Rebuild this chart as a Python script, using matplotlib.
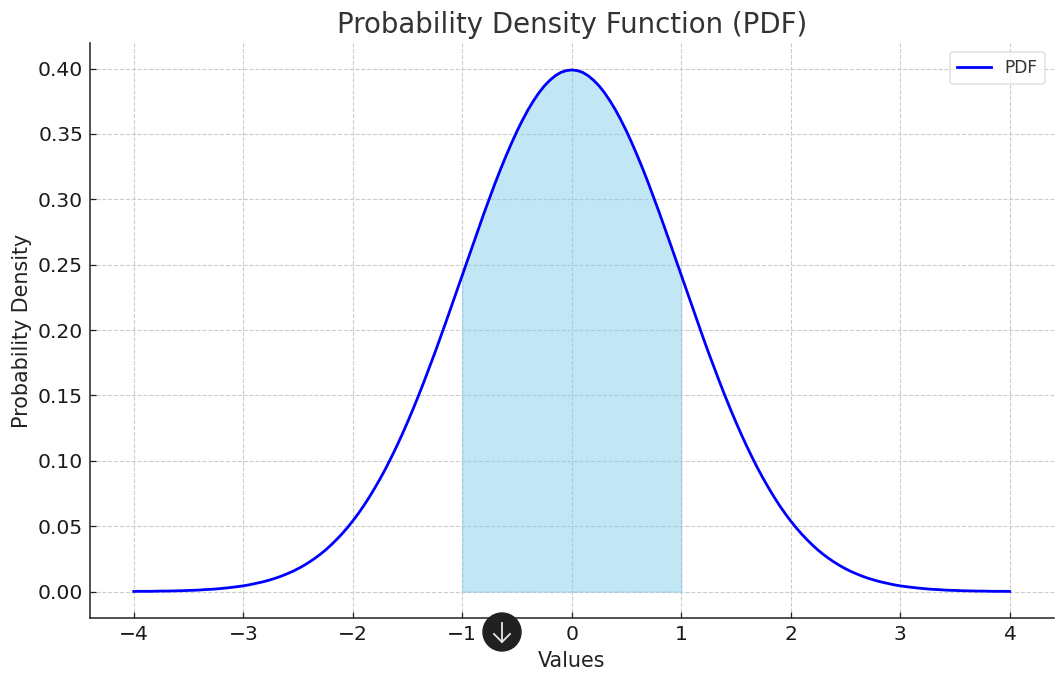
import numpy as np
import matplotlib
matplotlib.use("Agg")
import matplotlib.pyplot as plt
from matplotlib.patches import Circle

# values, one every 0.05 from 0 to 4 (the curve is mirrored about 0)
half_vals = [0.3989, 0.3984, 0.3970, 0.3945, 0.3910, 0.3867, 0.3814, 0.3752, 0.3683, 0.3605,
             0.3521, 0.3429, 0.3332, 0.3230, 0.3123, 0.3011, 0.2897, 0.2780, 0.2661, 0.2541,
             0.2420, 0.2299, 0.2179, 0.2059, 0.1942, 0.1826, 0.1714, 0.1604, 0.1497, 0.1394,
             0.1295, 0.1200, 0.1109, 0.1023, 0.0940, 0.0863, 0.0790, 0.0721, 0.0656, 0.0596,
             0.0540, 0.0488, 0.0440, 0.0396, 0.0355, 0.0317, 0.0283, 0.0252, 0.0224, 0.0198,
             0.0175, 0.0154, 0.0136, 0.0119, 0.0104, 0.0091, 0.0079, 0.0069, 0.0060, 0.0051,
             0.0044, 0.0038, 0.0033, 0.0028, 0.0024, 0.0020, 0.0017, 0.0015, 0.0012, 0.0010,
             0.0009, 0.0007, 0.0006, 0.0005, 0.0004, 0.0004, 0.0003, 0.0002, 0.0002, 0.0002, 0.0001]
x_vals = [i / 20 for i in range(-80, 81)]
pdf_vals = half_vals[:0:-1] + half_vals
shade_lo = -1
shade_hi = 1
x_ticks = [-4, -3, -2, -1, 0, 1, 2, 3, 4]
y_ticks = [0.00, 0.05, 0.10, 0.15, 0.20, 0.25, 0.30, 0.35, 0.40]

W, H = 1060, 676
fig = plt.figure(figsize=(W / 100, H / 100), dpi=100)
ax = fig.add_axes([90 / W, 1 - 618 / H, (1054 - 90) / W, (618 - 43) / H])

x = np.array(x_vals)
y = np.array(pdf_vals)
ax.plot(x, y, color="blue", linewidth=2.0, label="PDF", zorder=3)
mask = (x >= shade_lo - 1e-9) & (x <= shade_hi + 1e-9)
ax.fill_between(x[mask], y[mask], color="skyblue", alpha=0.5, zorder=2)

ax.set_xlim(-4.40, 4.405)
ax.set_ylim(-0.0202, 0.4195)
ax.set_xticks(x_ticks)
ax.set_yticks(y_ticks)
ax.set_yticklabels([f"{t:.2f}" for t in y_ticks])
ax.tick_params(labelsize=14.6, labelcolor="#1a1a1a", color="#222222", direction="in", length=4, width=0.9, pad=5)
ax.grid(color="#cbcbcb", linestyle="--", linewidth=0.8)
ax.set_axisbelow(True)
ax.spines["top"].set_visible(False)
ax.spines["right"].set_visible(False)
for side in ["left", "bottom"]:
    ax.spines[side].set_color("#222222")
    ax.spines[side].set_linewidth(1.1)

ax.set_title("Probability Density Function (PDF)", fontsize=19.9, color="#333333", pad=7)
ax.set_xlabel("Values", fontsize=14.9, color="#222222", labelpad=5)
ax.set_ylabel("Probability Density", fontsize=14.9, color="#222222", labelpad=4)
leg = ax.legend(loc="upper right", fontsize=12.3, labelcolor="#333333", borderaxespad=0.55)
leg.get_frame().set_edgecolor("#d8d8d8")
leg.get_frame().set_linewidth(1.1)

# download button sitting over the axis
overlay = fig.add_axes([0, 0, 1, 1], facecolor="none")
overlay.set_xlim(0, W)
overlay.set_ylim(H, 0)
overlay.axis("off")
overlay.add_patch(Circle((502, 632), 19, color="#212121"))
overlay.plot([502, 502], [622.5, 642], color="#e8e8e8", lw=1.3)
overlay.plot([494, 502, 510], [634, 642, 634], color="#e8e8e8", lw=1.3)

fig.savefig("out.png", dpi=100)
